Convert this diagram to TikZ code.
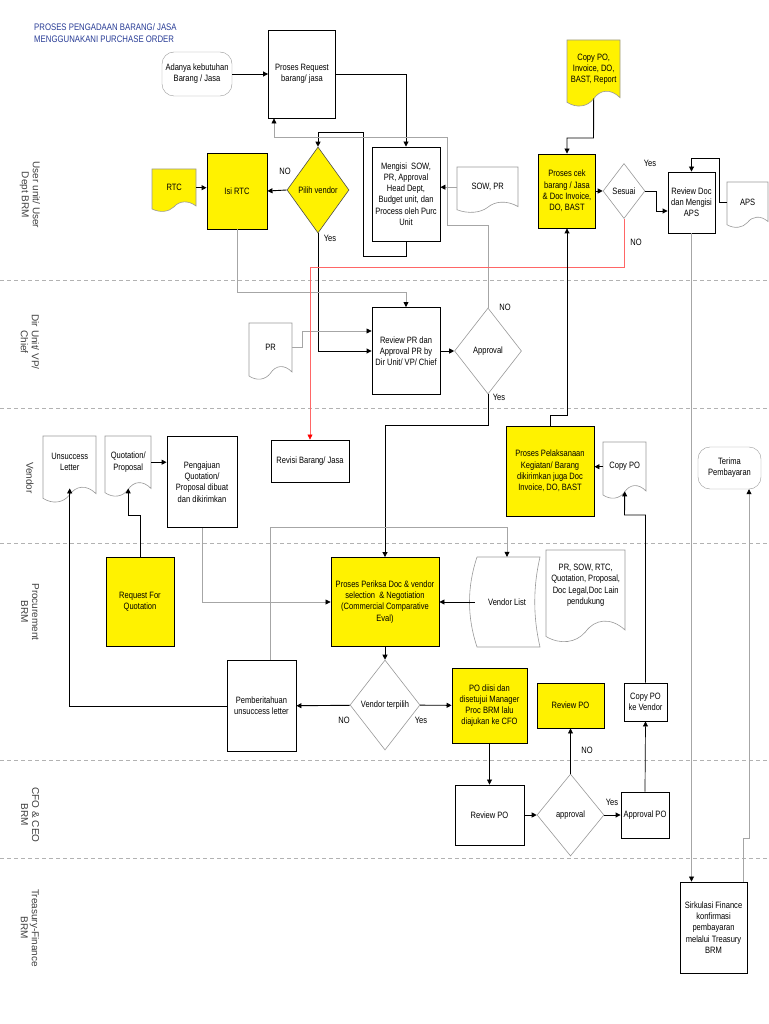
\documentclass[tikz,border=0pt]{standalone}
\usepackage{fontspec}
\setmainfont{Liberation Sans}[FakeStretch=0.82]
\newfontfamily\lanefont{Liberation Sans}
\usetikzlibrary{shapes.geometric,arrows.meta}
\definecolor{ttl}{RGB}{40,60,150}
\begin{document}
\begin{tikzpicture}[x=1pt,y=-1pt,
  every node/.style={font=\fontsize{9.2}{11.2}\selectfont,align=center,inner sep=1pt},
  box/.style={draw,line width=0.9pt,minimum width=#1},
  ybox/.style={box=#1,fill=yellow},
  dia/.style={diamond,draw=gray!80,line width=0.6pt,inner sep=0pt},
  arr/.style={line width=0.9pt,-{Triangle[length=5pt,width=5pt]}},
  garr/.style={draw=gray!70,line width=0.7pt,-{Triangle[length=5pt,width=5pt,color=black]}},
  gline/.style={draw=gray!70,line width=0.7pt},
  lane/.style={draw=gray!60,dashed,dash pattern=on 4pt off 3pt,line width=0.8pt},
  lab/.style={font=\lanefont\fontsize{10}{11}\selectfont,rotate=-90,text=black!75},
  docn/.style={minimum width=#1,inner sep=0pt}]
\useasboundingbox (0,0) rectangle (768,1024);
\fill[white] (0,0) rectangle (768,1024);
\newcommand\docsh[6]{% x y w h fill draw
  \begin{scope}[shift={(#1,#2)},xscale=#3,yscale=#4]
  \filldraw[fill=#5,draw=#6,line width=0.6pt] (0,0)--(1,0)--(1,0.86) .. controls (0.82,0.72) and (0.62,0.74) .. (0.5,0.88) .. controls (0.38,1.0) and (0.18,1.02) .. (0,0.93) -- cycle;
  \end{scope}}
% title
\node[text=ttl,anchor=west,font=\fontsize{9.5}{12}\selectfont,align=left] (title) at (33,33) {PROSES PENGADAAN BARANG/ JASA\\ MENGGUNAKANI PURCHASE ORDER};
% lanes
\foreach \y/\n in {280/l1,408/l2,543/l3,760/l4,858/l5}{\draw[lane] (0,\y) coordinate (\n a) -- (768,\y) coordinate (\n b);}
\node[lab] (lu) at (30,195) {User unit/ User\\Dept BRM};
\node[lab] (ld) at (30,342) {Dir Unit/ VP/\\Chief};
\node[lab] (lv) at (30,478) {Vendor};
\node[lab] (lp) at (30,612) {Procurement\\BRM};
\node[lab] (lc) at (30,815) {CFO \& CEO\\BRM};
\node[lab] (lt) at (30,928) {Treasury-Finance\\BRM};
% documents (shapes)
\docsh{152}{169}{44}{43}{yellow}{gray!80}
\docsh{457}{167}{61}{46}{white}{gray!80}
\docsh{567}{40}{53}{67}{yellow}{gray!80}
\docsh{727}{182}{41}{46}{white}{gray!80}
\docsh{249}{323}{43}{57}{white}{gray!80}
\docsh{43}{436}{53}{67}{white}{gray!80}
\docsh{105}{436}{46}{61}{white}{gray!80}
\docsh{603}{442}{43}{57}{white}{gray!80}
\docsh{546}{550}{79}{93}{white}{gray!80}
\draw[gray!80,line width=0.6pt] (477,557)--(540,557) .. controls (533,587) and (533,617) .. (540,647) -- (477,647) .. controls (467,617) and (467,587) .. (477,557);
\node[docn=44,minimum height=37,anchor=north west] (rtc) at (152,169) {RTC};
\node[docn=61,minimum height=40,anchor=north west] (sow) at (457,167) {SOW, PR};
\node[docn=53,minimum height=58,anchor=north west] (cptop) at (567,40) {Copy PO,\\Invoice, DO,\\BAST, Report};
\node[docn=41,minimum height=40,anchor=north west] (aps) at (727,182) {APS};
\node[docn=43,minimum height=49,anchor=north west] (pr) at (249,323) {PR};
\node[docn=53,minimum height=52,anchor=north west] (unsucc) at (43,436) {Unsuccess\\Letter};
\node[docn=46,minimum height=52,anchor=north west] (quot) at (105,436) {Quotation/\\Proposal};
\node[docn=43,minimum height=49,anchor=north west] (cpv) at (603,442) {Copy PO};
\node[docn=79,minimum height=70,anchor=north west] (docs) at (546,550) {PR, SOW, RTC,\\Quotation, Proposal,\\Doc Legal,Doc Lain\\pendukung};
\node[minimum width=64,minimum height=90] (vlist) at (507,602) {Vendor List};
% process nodes
\node[draw=gray!80,rounded corners=12pt,minimum width=70,minimum height=44] (start) at (197,74) {Adanya kebutuhan\\Barang / Jasa};
\node[box=67,minimum height=88] (req) at (302,74) {Proses Request\\barang/ jasa};
\node[box=68,minimum height=94] (mengisi) at (406,194) {Mengisi\ \ SOW,\\PR, Approval\\Head Dept,\\Budget unit, dan\\Process oleh Purc\\Unit};
\node[dia,fill=yellow,draw=black!70,minimum width=62,minimum height=86] (pilih) at (318,190) {Pilih vendor};
\node[ybox=60,minimum height=76] (isi) at (237,191) {Isi RTC};
\node[ybox=57,minimum height=74] (cek) at (567,191) {Proses cek\\barang / Jasa\\\& Doc Invoice,\\DO, BAST};
\node[dia,minimum width=42,minimum height=55] (sesuai) at (624,191) {Sesuai};
\node[box=47,minimum height=61] (rdoc) at (691.5,202.5) {Review Doc\\dan Mengisi\\APS};
\node[box=68,minimum height=87] (rpr) at (406,351) {Review PR dan\\Approval PR by\\Dir Unit/ VP/ Chief};
\node[dia,minimum width=67,minimum height=86] (appr) at (488,351) {Approval};
\node[box=70,minimum height=91] (peng) at (202,482) {Pengajuan\\Quotation/\\Proposal dibuat\\dan dikirimkan};
\node[box=78,minimum height=42] (revisi) at (310,461) {Revisi Barang/ Jasa};
\node[ybox=88,minimum height=90] (pel) at (550,471) {Proses Pelaksanaan\\Kegiatan/ Barang\\dikirimkan juga Doc\\Invoice, DO, BAST};
\node[draw=gray!80,rounded corners=12pt,minimum width=63,minimum height=42] (terima) at (729.5,468) {Terima\\Pembayaran};
\node[ybox=68,minimum height=89] (rfq) at (140,602) {Request For\\Quotation};
\node[ybox=108,minimum height=89] (periksa) at (385,602) {Proses Periksa Doc \& vendor\\selection\ \ \& Negotiation\\(Commercial Comparative\\Eval)};
\node[box=69,minimum height=91] (pemb) at (261.5,706) {Pemberitahuan\\unsuccess letter};
\node[dia,minimum width=70,minimum height=90] (terpilih) at (385,705) {Vendor terpilih};
\node[ybox=75,minimum height=75] (podiisi) at (489.5,705.5) {PO diisi dan\\disetujui Manager\\Proc BRM lalu\\diajukan ke CFO};
\node[ybox=67,minimum height=45] (rpoy) at (570.5,705.5) {Review PO};
\node[box=43,minimum height=38] (ckv) at (645.5,702) {Copy PO\\ke Vendor};
\node[box=69,minimum height=60] (rpoc) at (489.5,815) {Review PO};
\node[dia,minimum width=67,minimum height=82] (appr2) at (570.5,815) {approval};
\node[box=48,minimum height=46] (apo) at (645,815) {Approval PO};
\node[box=67,minimum height=91] (sirk) at (713.5,927.5) {Sirkulasi Finance\\konfirmasi\\pembayaran\\melalui Treasury\\BRM};
% connectors
\draw[arr] (start) -- (req);
\draw[arr] (req.east) -| (mengisi.north);
\draw[arr] (mengisi.south) -- (406,256) -- (363,256) -- (363,132) -| (pilih.north);
\draw[arr] (pilih.west) -- (isi.east);
\draw[arr] (rtc.east) -- (isi.west |- rtc.east);
\draw[garr] (sow.west) -- (mengisi.east |- sow.west);
\draw[garr] (appr.north) -- (488,225) -- (447,225) -- (447,137) -| ([xshift=-28pt]req.south);
\draw[arr] (pilih.south) |- (rpr.west);
\draw[garr] (pr.east) -| (302,331) -- ([yshift=20pt]rpr.west);
\draw[garr] (isi.south) |- (406,292) -- (rpr.north);
\draw[draw=red!60,line width=0.7pt,-{Triangle[length=5pt,width=5pt,color=red]}] (sesuai.south) -- (624,267) -- (310,267) -- (revisi.north);
\draw[arr] (rpr) -- (appr);
\draw[arr] (appr.south) -- (488,425) -| (periksa.north);
\draw[arr] (pel.north) -- (550,415) -| (cek.south);
\draw[arr] (cptop.south) -- (593.5,138) -| (cek.north);
\draw[arr] (cek) -- (sesuai);
\draw[arr] (sesuai.east) -- (656,191) |- ([yshift=-8.5pt]rdoc.west);
\draw[arr] (aps.west) -| (719,158) -| (rdoc.north);
\draw[garr] (rdoc.south) -- ([xshift=-22pt]sirk.north);
\draw[garr] ([xshift=30pt]sirk.north) |- (749,838) -- ([xshift=19.5pt]terima.south);
\draw[arr] (ckv.north) |- (624.5,515) -- (cpv.south);
\draw[arr] (cpv.west) -- (pel.east |- cpv.west);
\draw[arr] (rfq.north) -- (140,515) -| (quot.south);
\draw[arr] (quot.east) -- (peng.west |- quot.east);
\draw[arr,line width=0.7pt] (pemb.west) -| (unsucc.south);
\draw[garr] (peng.south) |- (periksa.west);
\draw[arr] (vlist.west) -- (periksa.east);
\draw[garr] (386,527) -- (507,527) -- (vlist.north);
\draw[gline] ([xshift=8.5pt]pemb.north) |- (386,527);
\draw[arr] (periksa) -- (terpilih);
\draw[arr] (terpilih) -- (pemb);
\draw[arr] (terpilih) -- (podiisi);
\draw[arr,line width=0.7pt] (podiisi) -- (rpoc);
\draw[arr] (rpoc) -- (appr2);
\draw[arr] (appr2) -- (apo);
\draw[arr,line width=0.7pt] (appr2.north) -- (rpoy.south);
\draw[arr,line width=0.7pt] (apo.north) -- (ckv.south);
% labels
\node (n1) at (285,171) {NO};
\node (y1) at (330,238) {Yes};
\node (n2) at (505,307) {NO};
\node (y2) at (499,397) {Yes};
\node (y3) at (650,163) {Yes};
\node (n3) at (636,242) {NO};
\node (n4) at (344,720) {NO};
\node (y4) at (421,720) {Yes};
\node (n5) at (587,750) {NO};
\node (y5) at (612,802) {Yes};
\end{tikzpicture}
\end{document}
